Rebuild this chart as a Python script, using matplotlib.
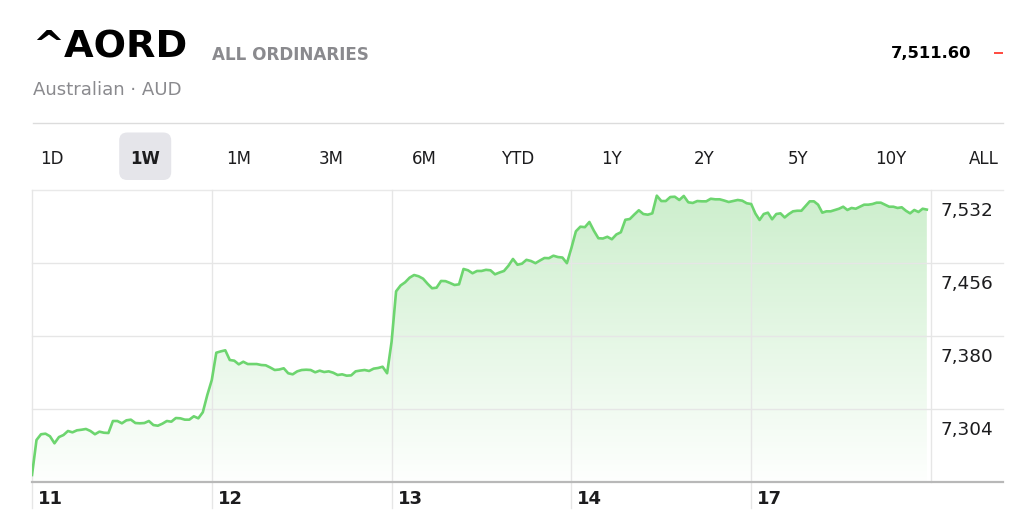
import numpy as np
import matplotlib
matplotlib.use("Agg")
import matplotlib.pyplot as plt
from matplotlib.patches import Polygon, FancyBboxPatch
from matplotlib.transforms import blended_transform_factory, offset_copy

day_labels = ["11", "12", "13", "14", "17"]

day11 = [7235.3, 7271.7, 7277.7, 7278.3, 7275.6, 7268.3, 7274.8, 7276.9, 7281.1, 7279.7,
         7281.8, 7282.4, 7283.2, 7281.1, 7277.7, 7280.4, 7279.3, 7279.0, 7291.5, 7291.5,
         7289.1, 7292.2, 7292.9, 7289.4, 7289.1, 7289.4, 7291.5, 7287.3, 7286.6, 7288.7,
         7291.5, 7290.8, 7294.6, 7294.3, 7292.9, 7292.9, 7296.4, 7294.3, 7300.6, 7318.6]
day12 = [7334.2, 7362.6, 7364.0, 7365.1, 7355.0, 7354.3, 7350.5, 7353.2, 7350.8, 7350.8,
         7350.8, 7349.8, 7349.5, 7347.2, 7344.6, 7345.1, 7346.4, 7341.2, 7340.1, 7343.2,
         7344.6, 7344.9, 7344.6, 7342.2, 7343.9, 7342.5, 7343.2, 7341.8, 7339.4, 7340.1,
         7338.7, 7339.0, 7343.2, 7344.0, 7344.6, 7343.6, 7346.0, 7346.7, 7348.0, 7341.2]
day13 = [7374.1, 7426.5, 7432.6, 7435.9, 7440.7, 7443.5, 7442.2, 7439.7, 7434.4, 7429.7,
         7430.3, 7437.3, 7437.1, 7435.2, 7433.1, 7433.8, 7449.8, 7448.4, 7445.3, 7447.7,
         7447.7, 7448.9, 7448.4, 7444.2, 7446.1, 7447.7, 7453.2, 7460.2, 7454.2, 7455.3,
         7459.3, 7458.1, 7455.8, 7458.6, 7461.2, 7461.0, 7463.6, 7462.2, 7461.7, 7455.8]
day14 = [7471.6, 7489.0, 7493.8, 7493.3, 7498.7, 7489.6, 7481.8, 7481.5, 7483.3, 7480.7,
         7485.7, 7488.0, 7501.0, 7501.8, 7506.5, 7510.9, 7507.0, 7506.3, 7507.7, 7526.1,
         7520.5, 7520.5, 7524.7, 7525.0, 7521.6, 7525.8, 7519.2, 7518.5, 7520.5, 7520.2,
         7520.2, 7522.9, 7522.3, 7522.3, 7521.0, 7519.5, 7520.5, 7521.6, 7520.9, 7518.2]
day17 = [7517.4, 7507.5, 7500.8, 7507.0, 7508.4, 7501.5, 7507.0, 7507.7, 7503.4, 7507.0,
         7509.8, 7510.4, 7510.4, 7515.3, 7520.2, 7520.2, 7516.7, 7508.4, 7509.8, 7509.8,
         7511.2, 7512.5, 7514.6, 7511.2, 7513.3, 7512.5, 7514.6, 7516.7, 7516.7, 7517.4,
         7518.8, 7518.8, 7516.7, 7514.6, 7514.6, 7513.3, 7514.0, 7510.4, 7507.7, 7511.2,
         7509.1, 7512.5, 7511.6]

y_ticks = [7304, 7380, 7456, 7532]
y_tick_labels = ["7,304", "7,380", "7,456", "7,532"]
y_min = 7228

ticker = "^AORD"
name = "ALL ORDINARIES"
sub = "Australian \u00b7 AUD"
last_price = "7,511.60"
tabs = ["1D", "1W", "1M", "3M", "6M", "YTD", "1Y", "2Y", "5Y", "10Y", "ALL"]
active_tab = "1W"

# --- Style ---
plt.rcParams['font.family'] = ['DejaVu Sans']
GREEN = '#6dd56f'
GRID = '#e6e6e6'
GRAY_TXT = '#8a8a8e'
INK = '#1c1c1e'
W, H = 1024, 524

fig = plt.figure(figsize=(W / 100, H / 100), dpi=100)
fig.patch.set_facecolor('white')


def fx(px):
    return px / W


def fy(py):
    return 1 - py / H


# --- Chart axes ---
ax = fig.add_axes([fx(32), fy(482), fx(931) - fx(32), fy(190) - fy(482)])
ax.set_xlim(0, len(day_labels))
ax.set_ylim(y_min, y_ticks[-1])
ax.axis('off')

days = [day11, day12, day13, day14, day17]
xs, ys = [], []
for d, vals in enumerate(days):
    n = len(vals)
    xs.extend(d + np.arange(n) / n)
    ys.extend(vals)
xs = np.array(xs)
ys = np.array(ys)

# gradient fill under the line
verts = np.vstack([np.column_stack([xs, ys]), [[xs[-1], y_min], [xs[0], y_min]]])
poly = Polygon(verts, closed=True, facecolor='none', edgecolor='none')
ax.add_patch(poly)
top_c = np.array([0.80, 0.935, 0.80])
bot_c = np.array([0.995, 1.0, 0.995])
t = np.linspace(0, 1, 256)[:, None]
grad = (top_c * (1 - t) + bot_c * t)[:, None, :]
im = ax.imshow(grad, extent=[0, len(day_labels), y_min, y_ticks[-1]], aspect='auto',
               origin='upper', zorder=1, interpolation='bicubic')
im.set_clip_path(poly)

# grid lines (drawn beyond the axes, like the app)
hgrid = blended_transform_factory(fig.transFigure, ax.transData)
for v in y_ticks[:-1]:
    ax.plot([fx(32), fx(1003)], [v, v], color=GRID, lw=1.0, transform=hgrid, clip_on=False, zorder=2)
ax.plot([fx(32), fx(1003)], [y_ticks[-1]] * 2, color='#e9e9e9', lw=1.0, transform=hgrid,
        clip_on=False, zorder=2)
ax.plot([fx(32), fx(1003)], [y_min, y_min], color='#b8b8b8', lw=1.6, transform=hgrid,
        clip_on=False, zorder=4)

vgrid = blended_transform_factory(ax.transData, fig.transFigure)
for d in range(len(day_labels)):
    ax.plot([d, d], [fy(190), fy(508)], color=GRID, lw=1.0, transform=vgrid, clip_on=False, zorder=2)
ax.plot([len(day_labels)] * 2, [fy(190), fy(482)], color=GRID, lw=1.0, transform=vgrid,
        clip_on=False, zorder=2)

ax.plot(xs, ys, color=GREEN, lw=1.9, zorder=5, solid_joinstyle='round')

# y labels to the right of the plot, below their grid line
ylab_tr = offset_copy(blended_transform_factory(ax.transAxes, ax.transData), fig=fig,
                      x=9, y=-26, units='dots')
for v, lab in zip(y_ticks, y_tick_labels):
    ax.text(1, v, lab, transform=ylab_tr, ha='left', va='baseline', fontsize=13.3,
            color=INK)

# day labels under the axis
xlab_tr = offset_copy(blended_transform_factory(ax.transData, ax.transAxes), fig=fig,
                      x=6, y=-22, units='dots')
for d, lab in enumerate(day_labels):
    ax.text(d, 0, lab, transform=xlab_tr, ha='left', va='baseline', fontsize=13,
            color=INK, fontweight='bold')

# --- Header (overlay in pixel coords) ---
ov = fig.add_axes([0, 0, 1, 1], zorder=-1)
ov.set_xlim(0, W)
ov.set_ylim(H, 0)
ov.axis('off')

ov.text(32, 57, ticker, fontsize=27.5, fontweight='bold', color='black', va='baseline')
ov.text(212, 60, name, fontsize=12.1, fontweight='bold', color=GRAY_TXT, va='baseline')
ov.text(33, 95, sub, fontsize=13.1, color=GRAY_TXT, va='baseline')
ov.text(971, 58.5, last_price, fontsize=11.8, fontweight='bold', color='black',
        ha='right', va='baseline')
ov.plot([994, 1003], [53, 53], color='#ff3b30', lw=1.3, solid_capstyle='butt')

ov.plot([33, 1003], [122.5, 122.5], color='#dcdcdc', lw=1.0)

tab_x = np.linspace(52, 984, len(tabs))
for tx, lab in zip(tab_x, tabs):
    if lab == active_tab:
        box = FancyBboxPatch((tx - 26, 132.5), 52, 47.5,
                             boxstyle='round,pad=0,rounding_size=8',
                             facecolor='#e5e5ea', edgecolor='none')
        ov.add_patch(box)
    ov.text(tx, 164.3, lab, fontsize=12, ha='center', va='baseline', color=INK,
            fontweight='bold' if lab == active_tab else 'normal')

fig.savefig('out.png', dpi=100, facecolor='white')
